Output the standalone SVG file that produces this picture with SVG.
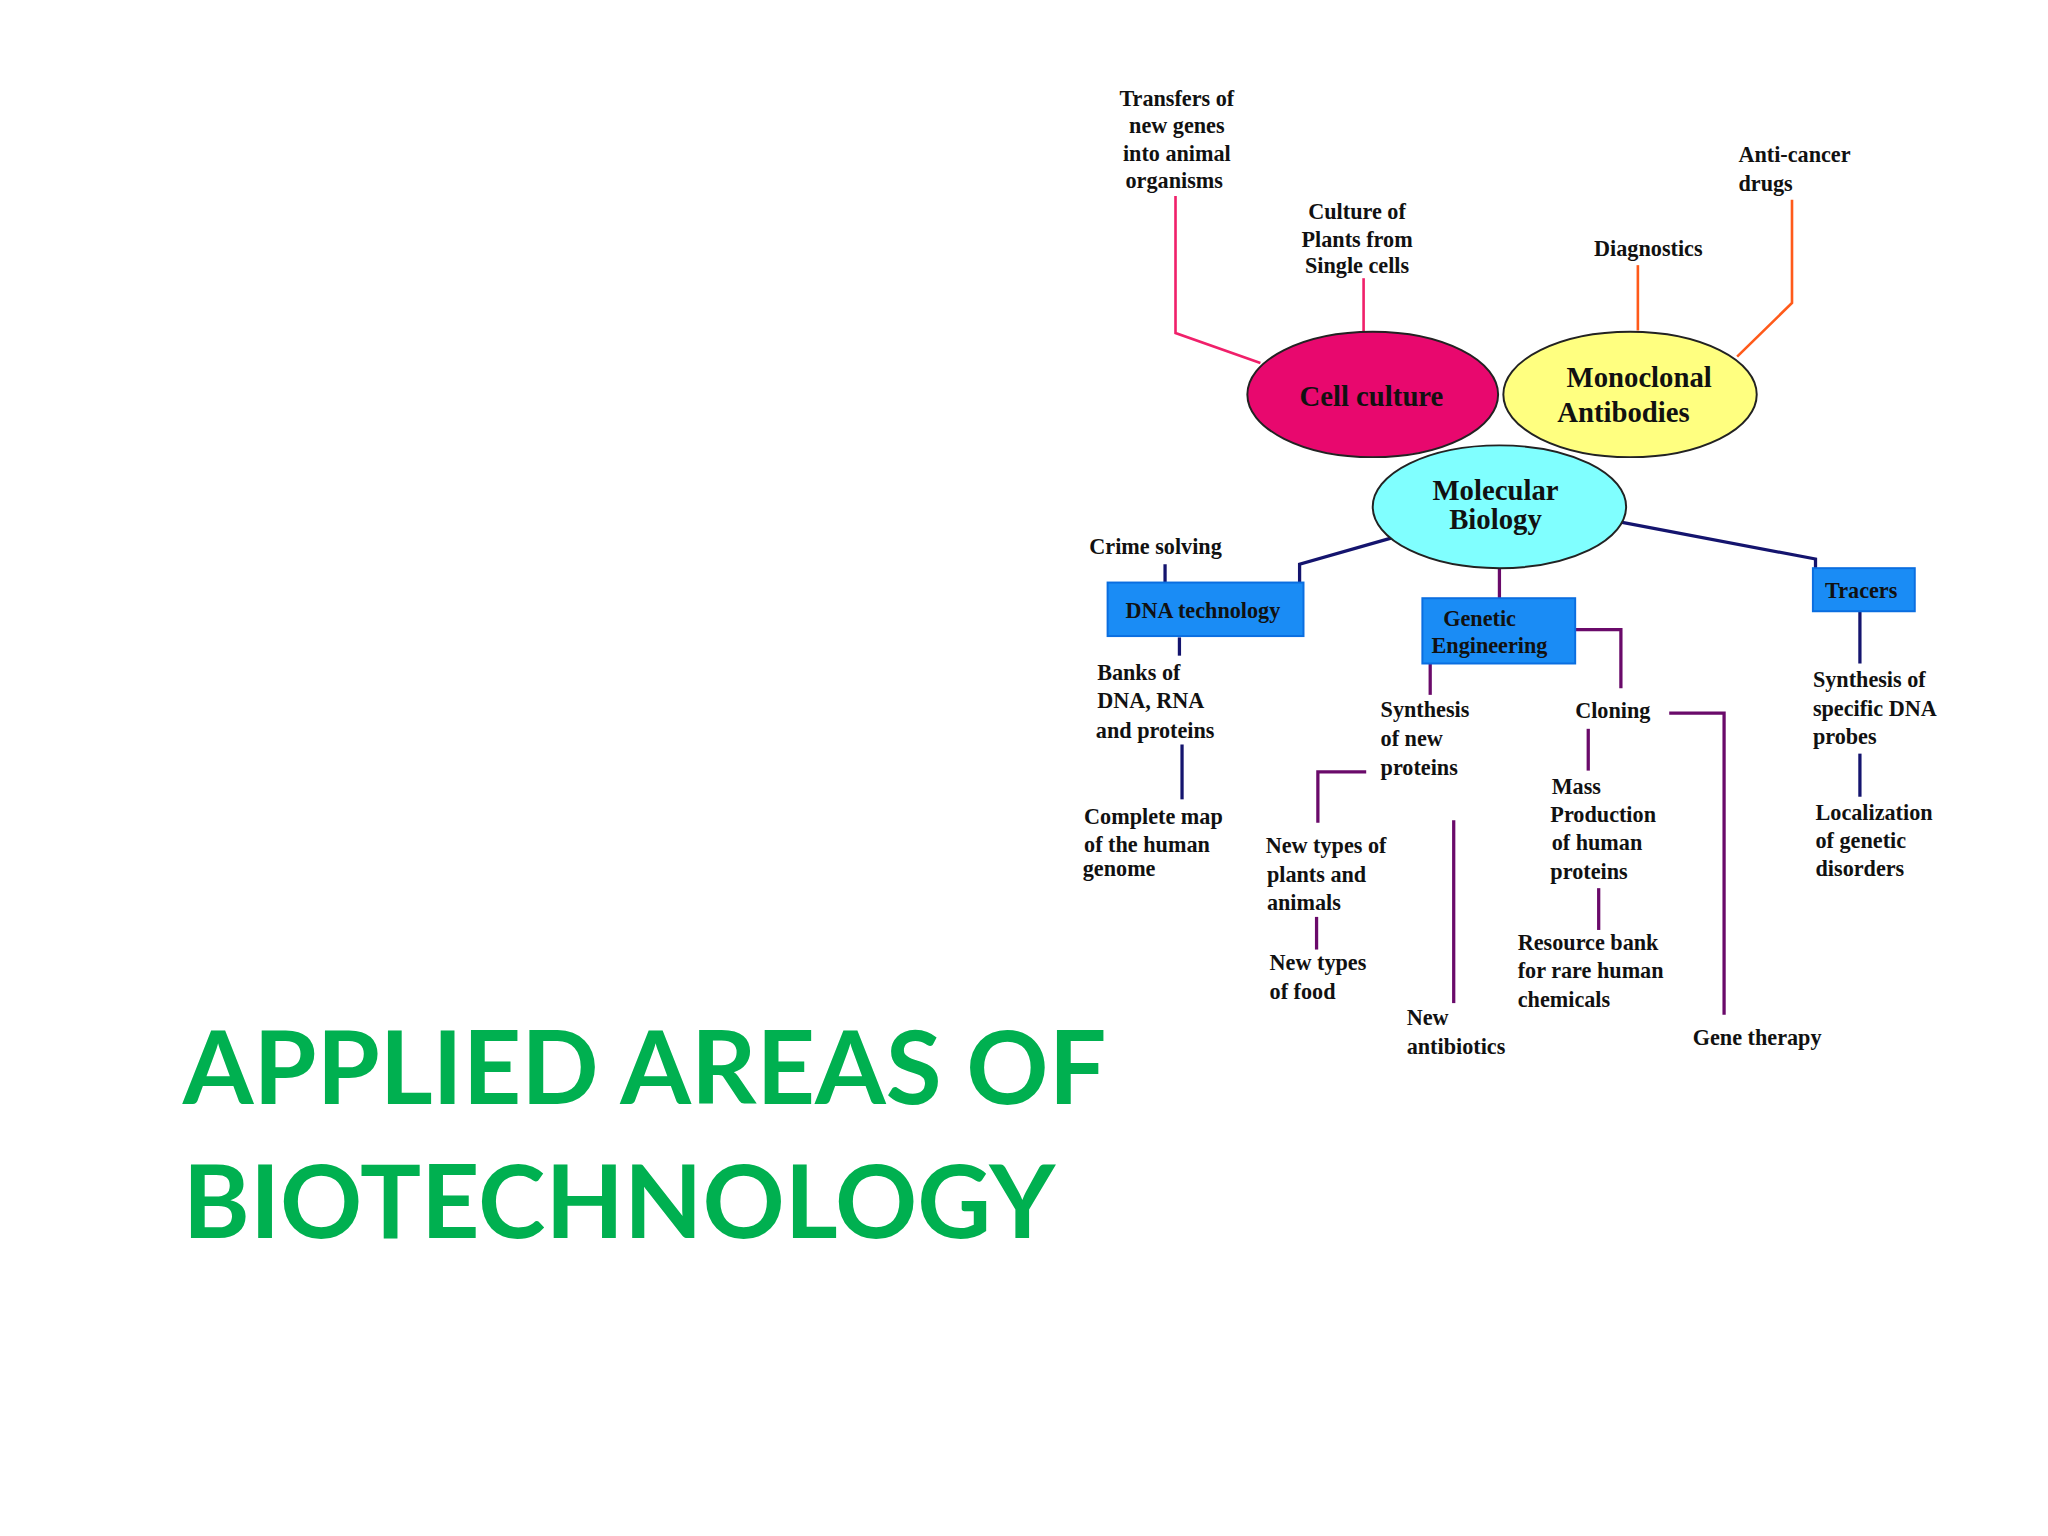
<svg xmlns="http://www.w3.org/2000/svg" width="2048" height="1536" viewBox="0 0 2048 1536">
<style>
.t{font-family:"Liberation Serif",serif;font-weight:bold;font-size:17px;fill:#111}
.c{text-anchor:middle}
.big{font-family:"Liberation Serif",serif;font-weight:bold;font-size:22px;fill:#111;text-anchor:middle}
.bx{font-family:"Liberation Serif",serif;font-weight:bold;font-size:17px;fill:#111}
.pk{stroke:#f0206a;stroke-width:2;fill:none}
.or{stroke:#ff5a1a;stroke-width:2;fill:none}
.nv{stroke:#14146e;stroke-width:2.5;fill:none}
.pu{stroke:#6a0a6a;stroke-width:2.5;fill:none}
.box{fill:#1a8cf5;stroke:#0a6ee0;stroke-width:1.5}
.ti{font-family:Lato,"Liberation Sans",sans-serif;font-weight:bold;font-size:78px;fill:#00b050}
</style>
<rect width="2048" height="1536" fill="#fff"/>
<g transform="scale(1.30612)">
<g id="connectors">
<polyline class="pk" points="900,150 900,255 965,278"/>
<polyline class="pk" points="1044,213 1044,254"/>
<polyline class="or" points="1254,203 1254,253"/>
<polyline class="or" points="1372,153 1372,232 1330,273"/>
<polyline class="nv" points="1065,412 995,432 995,446"/>
<polyline class="nv" points="1242,400 1390,428 1390,435"/>
<polyline class="nv" points="892,432 892,446"/>
<polyline class="nv" points="903,488 903,502"/>
<polyline class="nv" points="905,570 905,612"/>
<polyline class="nv" points="1424,468 1424,508"/>
<polyline class="nv" points="1424,577 1424,610"/>
<polyline class="pu" points="1148,435 1148,458"/>
<polyline class="pu" points="1206,482 1241,482 1241,527"/>
<polyline class="pu" points="1095,508 1095,532"/>
<polyline class="pu" points="1046,591 1009,591 1009,630"/>
<polyline class="pu" points="1113,628 1113,768"/>
<polyline class="pu" points="1216,558 1216,590"/>
<polyline class="pu" points="1278,546 1320,546 1320,777"/>
<polyline class="pu" points="1008,702 1008,727"/>
<polyline class="pu" points="1224,680 1224,712"/>
</g>
<g id="cell-culture"><ellipse cx="1051" cy="302" rx="96" ry="48" fill="#e8086e" stroke="#222" stroke-width="1.5"/><text class="big" x="1050" y="311">Cell culture</text></g>
<g id="monoclonal"><ellipse cx="1248" cy="302" rx="97" ry="48" fill="#ffff80" stroke="#222" stroke-width="1.5"/><text class="big" x="1255" y="296">Monoclonal</text><text class="big" x="1243" y="323">Antibodies</text></g>
<g id="molecular"><ellipse cx="1148" cy="388" rx="97" ry="47" fill="#80ffff" stroke="#222" stroke-width="1.5"/><text class="big" x="1145" y="383">Molecular</text><text class="big" x="1145" y="405">Biology</text></g>
<g id="dna-tech"><rect class="box" x="848" y="446" width="150" height="41"/><text class="bx c" x="921" y="473">DNA technology</text></g>
<g id="genetic"><rect class="box" x="1089" y="458" width="117" height="50"/><text class="bx" x="1105" y="479">Genetic</text><text class="bx" x="1096" y="500">Engineering</text></g>
<g id="tracers"><rect class="box" x="1388" y="435" width="78" height="33"/><text class="bx c" x="1425" y="458">Tracers</text></g>
<g id="transfers"><text class="t c" x="901" y="81">Transfers of</text><text class="t c" x="901" y="102">new genes</text><text class="t c" x="901" y="123">into animal</text><text class="t c" x="899" y="144">organisms</text></g>
<g id="culture-plants"><text class="t c" x="1039" y="168">Culture of</text><text class="t c" x="1039" y="189">Plants from</text><text class="t c" x="1039" y="209">Single cells</text></g>
<g id="diagnostics"><text class="t c" x="1262" y="196">Diagnostics</text></g>
<g id="anticancer"><text class="t" x="1331" y="124">Anti-cancer</text><text class="t" x="1331" y="146">drugs</text></g>
<g id="crime"><text class="t" x="834" y="424">Crime solving</text></g>
<g id="banks"><text class="t" x="840" y="521">Banks of</text><text class="t" x="840" y="542">DNA, RNA</text><text class="t" x="839" y="565">and proteins</text></g>
<g id="map"><text class="t" x="830" y="631">Complete map</text><text class="t" x="830" y="652">of the human</text><text class="t" x="829" y="671">genome</text></g>
<g id="synthesis"><text class="t" x="1057" y="549">Synthesis</text><text class="t" x="1057" y="571">of new</text><text class="t" x="1057" y="593">proteins</text></g>
<g id="cloning"><text class="t" x="1206" y="550">Cloning</text></g>
<g id="probes"><text class="t" x="1388" y="526">Synthesis of</text><text class="t" x="1388" y="548">specific DNA</text><text class="t" x="1388" y="570">probes</text></g>
<g id="localization"><text class="t" x="1390" y="628">Localization</text><text class="t" x="1390" y="649">of genetic</text><text class="t" x="1390" y="671">disorders</text></g>
<g id="newtypes"><text class="t" x="969" y="653">New types of</text><text class="t" x="970" y="675">plants and</text><text class="t" x="970" y="697">animals</text></g>
<g id="mass"><text class="t" x="1188" y="608">Mass</text><text class="t" x="1187" y="629">Production</text><text class="t" x="1188" y="651">of human</text><text class="t" x="1187" y="673">proteins</text></g>
<g id="food"><text class="t" x="972" y="743">New types</text><text class="t" x="972" y="765">of food</text></g>
<g id="resource"><text class="t" x="1162" y="727">Resource bank</text><text class="t" x="1162" y="749">for rare human</text><text class="t" x="1162" y="771">chemicals</text></g>
<g id="antibiotics"><text class="t" x="1077" y="785">New</text><text class="t" x="1077" y="807">antibiotics</text></g>
<g id="gene-therapy"><text class="t" x="1296" y="800">Gene therapy</text></g>
<g id="title"><text class="ti" x="140" y="845">APPLIED AREAS OF</text><text class="ti" x="140" y="948">BIOTECHNOLOGY</text></g>
</g>
</svg>
